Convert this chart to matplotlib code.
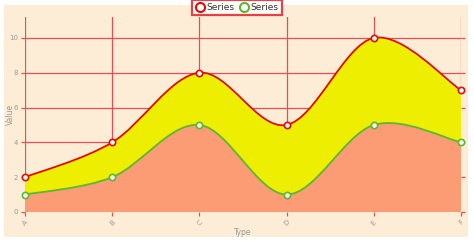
import matplotlib.pyplot as plt
from matplotlib.path import Path
from matplotlib.patches import PathPatch, Rectangle
from matplotlib.lines import Line2D

categories = ['A', 'B', 'C', 'D', 'E', 'F']
series_top = [2, 4, 8, 5, 10, 7]
series_bottom = [1, 2, 5, 1, 5, 4]
y_ticks = [0, 2, 4, 6, 8, 10]

BG = '#fdedd6'
GRID = '#ea4c55'


def spline_path(xs, ys, closed_to=None):
    """Catmull-Rom curve through the points, as cubic bezier path."""
    pts = list(zip(xs, ys))
    verts = [pts[0]]
    codes = [Path.MOVETO]
    n = len(pts)
    for i in range(n - 1):
        p0 = pts[max(i - 1, 0)]
        p1 = pts[i]
        p2 = pts[i + 1]
        p3 = pts[min(i + 2, n - 1)]
        c1 = (p1[0] + (p2[0] - p0[0]) / 6, p1[1] + (p2[1] - p0[1]) / 6)
        c2 = (p2[0] - (p3[0] - p1[0]) / 6, p2[1] - (p3[1] - p1[1]) / 6)
        verts += [c1, c2, p2]
        codes += [Path.CURVE4] * 3
    if closed_to is not None:
        verts += [(xs[-1], closed_to), (xs[0], closed_to), pts[0]]
        codes += [Path.LINETO, Path.LINETO, Path.CLOSEPOLY]
    return Path(verts, codes)


fig = plt.figure(figsize=(4.74, 2.42), dpi=100, facecolor='white')
fig.patches.append(Rectangle((4 / 474, 5 / 242), 464 / 474, 232 / 242,
                             transform=fig.transFigure, facecolor=BG,
                             edgecolor='none', zorder=-10))

ax = fig.add_axes([25 / 474, 1 - 212 / 242, 436 / 474, 195 / 242])
ax.set_facecolor(BG)
x = list(range(len(categories)))
ax.set_xlim(0, len(categories) - 1)
ax.set_ylim(0, 11.2)

ax.grid(True, color=GRID, linewidth=0.9, zorder=0)
ax.set_axisbelow(True)
for s in ax.spines.values():
    s.set_visible(False)

ax.add_patch(PathPatch(spline_path(x, series_top, 0), facecolor='#eeee00',
                       edgecolor='none', zorder=2))
ax.add_patch(PathPatch(spline_path(x, series_bottom, 0), facecolor='#fb9c74',
                       edgecolor='none', zorder=3))
ax.add_patch(PathPatch(spline_path(x, series_top), facecolor='none',
                       edgecolor='#e00c0c', linewidth=1.3, zorder=4))
ax.add_patch(PathPatch(spline_path(x, series_bottom), facecolor='none',
                       edgecolor='#5cb82c', linewidth=1.3, zorder=4))
ax.plot(x, series_top, 'o', ms=4.5, mfc='white', mec='#e00c0c', mew=1.2,
        zorder=5, clip_on=False)
ax.plot(x, series_bottom, 'o', ms=4.5, mfc='white', mec='#5cb82c', mew=1.2,
        zorder=5, clip_on=False)

ax.set_xticks(x)
ax.set_xticklabels(categories, rotation=45, fontsize=5, color='#999999')
ax.set_yticks(y_ticks)
ax.set_yticklabels(y_ticks, fontsize=5, color='#999999')
ax.tick_params(axis='both', colors=GRID, labelcolor='#999999', length=3,
               width=0.9, pad=2)
ax.tick_params(axis='y', right=True)
ax.set_xlabel('Type', fontsize=5.5, color='#999999', labelpad=1)
ax.set_ylabel('Value', fontsize=5.5, color='#999999')
ax.yaxis.set_label_coords(-10 / 436, 0.5)

handles = [
    Line2D([], [], marker='o', ls='none', ms=6.5, mfc='white', mec='#e00c0c', mew=1.5),
    Line2D([], [], marker='o', ls='none', ms=6.5, mfc='white', mec='#5cb82c', mew=1.5),
]
leg = fig.legend(handles, ['Series', 'Series'], loc='upper center',
                 bbox_to_anchor=(0.5, 1.0), ncol=2, fontsize=6.5,
                 frameon=True, fancybox=False, handletextpad=0.2,
                 columnspacing=0.6, borderpad=0.35, handlelength=1.0,
                 borderaxespad=0)
leg.get_frame().set_edgecolor('#e0141e')
leg.get_frame().set_linewidth(1.6)
leg.get_frame().set_facecolor('white')
for t in leg.get_texts():
    t.set_color('#333333')

fig.savefig('out.png', dpi=100, facecolor='white')
